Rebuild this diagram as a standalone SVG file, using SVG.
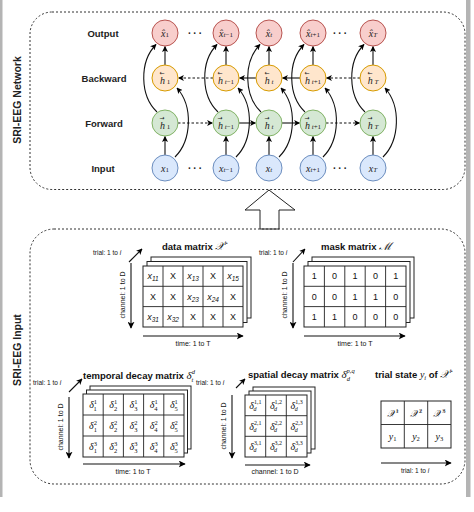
<svg xmlns="http://www.w3.org/2000/svg" width="474" height="512" viewBox="0 0 474 512">
<defs>
<marker id="ah" viewBox="0 0 10 10" refX="9" refY="5" markerWidth="6" markerHeight="6" markerUnits="userSpaceOnUse" orient="auto"><path d="M0,0 L10,5 L0,10 L2.5,5 z" fill="#000"/></marker>
<marker id="ah2" viewBox="0 0 10 10" refX="9" refY="5" markerWidth="7" markerHeight="7" markerUnits="userSpaceOnUse" orient="auto"><path d="M0,0 L10,5 L0,10 L2.5,5 z" fill="#000"/></marker>
</defs>
<style>
.frame{fill:#b4b4b4}
.box{fill:none;stroke:#333;stroke-width:1;stroke-dasharray:2,2}
.lbl{font-family:"Liberation Sans",Arial,sans-serif;font-weight:bold;font-size:9.5px;fill:#222;text-anchor:middle;dominant-baseline:central}
.side{font-family:"Liberation Sans",Arial,sans-serif;font-weight:bold;font-size:10.5px;fill:#222;text-anchor:middle;dominant-baseline:central}
.title{font-family:"Liberation Sans",Arial,sans-serif;font-weight:bold;font-size:9.5px;fill:#111}
.tm{font-family:"Liberation Serif","DejaVu Serif",serif;font-style:italic;font-weight:normal}
.small{font-family:"Liberation Sans",Arial,sans-serif;font-size:6.5px;fill:#111}
.ax{font-family:"Liberation Sans",Arial,sans-serif;font-size:7px;fill:#111;text-anchor:middle}
.m{font-family:"Liberation Serif","DejaVu Serif",serif;font-style:italic;font-size:10px;fill:#222;text-anchor:middle;dominant-baseline:central}
.ar{font-family:"DejaVu Sans",sans-serif;font-size:6px;fill:#222;text-anchor:middle}
.dots{font-family:"Liberation Sans",Arial,sans-serif;font-weight:bold;font-size:10px;fill:#222;text-anchor:middle;dominant-baseline:central;letter-spacing:2px}
.out{fill:#f8cecc;stroke:#b85450;stroke-width:1}
.bwd{fill:#ffe6cc;stroke:#d79b00;stroke-width:1}
.fwd{fill:#d5e8d4;stroke:#82b366;stroke-width:1}
.inp{fill:#dae8fc;stroke:#6c8ebf;stroke-width:1}
.c{fill:none;stroke:#111;stroke-width:1.1}
.cd{fill:none;stroke:#111;stroke-width:1.1;stroke-dasharray:2.5,2}
.cell{fill:#fff;stroke:#222;stroke-width:1}
.grid{fill:none;stroke:#222;stroke-width:0.9}
.cx{font-family:"Liberation Sans",Arial,sans-serif;font-size:9px;fill:#111;text-anchor:middle;dominant-baseline:central}
.cxi{font-family:"Liberation Sans",Arial,sans-serif;font-style:italic;font-size:9px;fill:#111;text-anchor:middle;dominant-baseline:central}
.dl{font-family:"Liberation Serif","DejaVu Serif",serif;font-style:italic;font-size:10px;fill:#111;text-anchor:middle;dominant-baseline:central}
</style>
<rect width="474" height="512" fill="#fff"/>
<rect class="frame" x="0" y="0" width="2.5" height="497"/>
<rect class="frame" x="466" y="0" width="4.5" height="497"/>

<g id="network-panel">
<rect class="box" x="30" y="12" width="435" height="177.5" rx="22"/>
<text class="side" transform="translate(17,100) rotate(-90)">SRI-EEG Network</text>
<text class="lbl" x="103" y="33">Output</text>
<text class="lbl" x="104" y="78">Backward</text>
<text class="lbl" x="104" y="123">Forward</text>
<text class="lbl" x="103" y="168">Input</text>
<text class="dots" x="196" y="33">···</text>
<text class="dots" x="341" y="33">···</text>
<text class="dots" x="196" y="168">···</text>
<text class="dots" x="341" y="168">···</text>
</g>

<g id="connectors">
<path class="c" d="M165,155 V136.5" marker-end="url(#ah)"/>
<path class="c" d="M226,155 V136.5" marker-end="url(#ah)"/>
<path class="c" d="M269,155 V136.5" marker-end="url(#ah)"/>
<path class="c" d="M313,155 V136.5" marker-end="url(#ah)"/>
<path class="c" d="M373,155 V136.5" marker-end="url(#ah)"/>
<path class="c" d="M165,65 V46.5" marker-end="url(#ah)"/>
<path class="c" d="M226,65 V46.5" marker-end="url(#ah)"/>
<path class="c" d="M269,65 V46.5" marker-end="url(#ah)"/>
<path class="c" d="M313,65 V46.5" marker-end="url(#ah)"/>
<path class="c" d="M373,65 V46.5" marker-end="url(#ah)"/>
<path class="cd" d="M178,123 H212.5" marker-end="url(#ah)"/>
<path class="c" d="M239,123 H255.5" marker-end="url(#ah)"/>
<path class="c" d="M282,123 H299.5" marker-end="url(#ah)"/>
<path class="cd" d="M326,123 H359.5" marker-end="url(#ah)"/>
<path class="cd" d="M213,78 H178.5" marker-end="url(#ah)"/>
<path class="c" d="M256,78 H239.5" marker-end="url(#ah)"/>
<path class="c" d="M300,78 H282.5" marker-end="url(#ah)"/>
<path class="cd" d="M360,78 H326.5" marker-end="url(#ah)"/>
<path class="c" d="M157,112 C140,96 139,62 156,44.5" marker-end="url(#ah)"/>
<path class="c" d="M218,112 C201,96 200,62 217,44.5" marker-end="url(#ah)"/>
<path class="c" d="M261,112 C244,96 243,62 260,44.5" marker-end="url(#ah)"/>
<path class="c" d="M305,112 C288,96 287,62 304,44.5" marker-end="url(#ah)"/>
<path class="c" d="M365,112 C348,96 347,62 364,44.5" marker-end="url(#ah)"/>
<path class="c" d="M175,157 C192,140 193,106 177,88" marker-end="url(#ah)"/>
<path class="c" d="M236,157 C253,140 254,106 238,88" marker-end="url(#ah)"/>
<path class="c" d="M279,157 C296,140 297,106 281,88" marker-end="url(#ah)"/>
<path class="c" d="M323,157 C340,140 341,106 325,88" marker-end="url(#ah)"/>
<path class="c" d="M383,157 C400,140 401,106 385,88" marker-end="url(#ah)"/>
<path d="M269,190 L295,210 L279,210 L279,229 L260,229 L260,210 L245,210 Z" fill="#fff" stroke="#222" stroke-width="1"/>
</g>

<g id="output-nodes">
<g id="o1"><circle class="out" cx="165" cy="33" r="13"/><text class="m" x="165" y="33">x̂<tspan font-size="7" font-style="normal" dy="2">1</tspan></text></g>
<g id="o2"><circle class="out" cx="226" cy="33" r="13"/><text class="m" x="226" y="33">x̂<tspan font-size="7" dy="2">t</tspan><tspan font-size="7" font-style="normal">−1</tspan></text></g>
<g id="o3"><circle class="out" cx="269" cy="33" r="13"/><text class="m" x="269" y="33">x̂<tspan font-size="7" dy="2">t</tspan></text></g>
<g id="o4"><circle class="out" cx="313" cy="33" r="13"/><text class="m" x="313" y="33">x̂<tspan font-size="7" dy="2">t</tspan><tspan font-size="7" font-style="normal">+1</tspan></text></g>
<g id="o5"><circle class="out" cx="373" cy="33" r="13"/><text class="m" x="373" y="33">x̂<tspan font-size="7" dy="2">T</tspan></text></g>
</g>

<g id="backward-nodes">
<g id="b1"><circle class="bwd" cx="165" cy="78" r="13"/><text class="ar" x="162" y="75">←</text><text class="m" x="165" y="80">h<tspan font-size="7" font-style="normal" dy="1.5"> 1</tspan></text></g>
<g id="b2"><circle class="bwd" cx="226" cy="78" r="13"/><text class="ar" x="220" y="75">←</text><text class="m" x="226" y="80">h<tspan font-size="7" dy="1.5"> t</tspan><tspan font-size="7" font-style="normal">−1</tspan></text></g>
<g id="b3"><circle class="bwd" cx="269" cy="78" r="13"/><text class="ar" x="267" y="75">←</text><text class="m" x="269" y="80">h<tspan font-size="7" dy="1.5"> t</tspan></text></g>
<g id="b4"><circle class="bwd" cx="313" cy="78" r="13"/><text class="ar" x="307" y="75">←</text><text class="m" x="313" y="80">h<tspan font-size="7" dy="1.5"> t</tspan><tspan font-size="7" font-style="normal">+1</tspan></text></g>
<g id="b5"><circle class="bwd" cx="373" cy="78" r="13"/><text class="ar" x="370" y="75">←</text><text class="m" x="373" y="80">h<tspan font-size="7" dy="1.5"> T</tspan></text></g>
</g>

<g id="forward-nodes">
<g id="f1"><circle class="fwd" cx="165" cy="123" r="13"/><text class="ar" x="162" y="120">→</text><text class="m" x="165" y="125">h<tspan font-size="7" font-style="normal" dy="1.5"> 1</tspan></text></g>
<g id="f2"><circle class="fwd" cx="226" cy="123" r="13"/><text class="ar" x="220" y="120">→</text><text class="m" x="226" y="125">h<tspan font-size="7" dy="1.5"> t</tspan><tspan font-size="7" font-style="normal">−1</tspan></text></g>
<g id="f3"><circle class="fwd" cx="269" cy="123" r="13"/><text class="ar" x="267" y="120">→</text><text class="m" x="269" y="125">h<tspan font-size="7" dy="1.5"> t</tspan></text></g>
<g id="f4"><circle class="fwd" cx="313" cy="123" r="13"/><text class="ar" x="307" y="120">→</text><text class="m" x="313" y="125">h<tspan font-size="7" dy="1.5"> t</tspan><tspan font-size="7" font-style="normal">+1</tspan></text></g>
<g id="f5"><circle class="fwd" cx="373" cy="123" r="13"/><text class="ar" x="370" y="120">→</text><text class="m" x="373" y="125">h<tspan font-size="7" dy="1.5"> T</tspan></text></g>
</g>

<g id="input-nodes">
<g id="i1"><circle class="inp" cx="165" cy="168" r="13"/><text class="m" x="165" y="168">x<tspan font-size="7" font-style="normal" dy="2">1</tspan></text></g>
<g id="i2"><circle class="inp" cx="226" cy="168" r="13"/><text class="m" x="226" y="168">x<tspan font-size="7" dy="2">t</tspan><tspan font-size="7" font-style="normal">−1</tspan></text></g>
<g id="i3"><circle class="inp" cx="269" cy="168" r="13"/><text class="m" x="269" y="168">x<tspan font-size="7" dy="2">t</tspan></text></g>
<g id="i4"><circle class="inp" cx="313" cy="168" r="13"/><text class="m" x="313" y="168">x<tspan font-size="7" dy="2">t</tspan><tspan font-size="7" font-style="normal">+1</tspan></text></g>
<g id="i5"><circle class="inp" cx="373" cy="168" r="13"/><text class="m" x="373" y="168">x<tspan font-size="7" dy="2">T</tspan></text></g>
</g>

<g id="input-panel">
<rect class="box" x="30" y="229" width="435" height="255" rx="24"/>
<text class="side" transform="translate(17,350) rotate(-90)">SRI-EEG Input</text>
</g>

<g id="data-matrix">
<text class="title" x="162" y="250">data matrix <tspan class="tm" font-size="11">𝒳</tspan><tspan class="tm" font-size="7" dy="-5">i</tspan></text>
<text class="small" x="93" y="255">trial: 1 to <tspan font-style="italic">i</tspan></text>
<path class="c" d="M129,262 L142,249" marker-end="url(#ah)"/>
<rect class="cell" x="151" y="257" width="100" height="61"/>
<rect class="cell" x="147" y="261.5" width="100" height="61"/>
<rect class="cell" x="143" y="266" width="100" height="61"/>
<path class="grid" d="M163,266V327M183,266V327M203,266V327M223,266V327M143,286.3H243M143,306.6H243"/>
<g class="cxi">
<text x="153" y="276">x<tspan font-size="6.5" dy="2">11</tspan></text>
<text x="193" y="276">x<tspan font-size="6.5" dy="2">13</tspan></text>
<text x="233" y="276">x<tspan font-size="6.5" dy="2">15</tspan></text>
<text x="193" y="296.5">x<tspan font-size="6.5" dy="2">23</tspan></text>
<text x="213" y="296.5">x<tspan font-size="6.5" dy="2">24</tspan></text>
<text x="153" y="317">x<tspan font-size="6.5" dy="2">31</tspan></text>
<text x="173" y="317">x<tspan font-size="6.5" dy="2">32</tspan></text>
</g>
<g class="cx">
<text x="173" y="276">X</text><text x="213" y="276">X</text>
<text x="153" y="296.5">X</text><text x="173" y="296.5">X</text><text x="233" y="296.5">X</text>
<text x="193" y="317">X</text><text x="213" y="317">X</text><text x="233" y="317">X</text>
</g>
<path class="c" d="M131,263 V328" marker-end="url(#ah2)"/>
<text class="ax" transform="translate(125,295) rotate(-90)">channel: 1 to D</text>
<path class="c" d="M143,336 H243" marker-end="url(#ah2)"/>
<text class="ax" x="193" y="346">time: 1 to T</text>
</g>

<g id="mask-matrix">
<text class="title" x="321" y="250">mask matrix <tspan class="tm" font-size="11">ℳ</tspan></text>
<text class="small" x="259" y="255">trial: 1 to <tspan font-style="italic">i</tspan></text>
<path class="c" d="M293,262 L305,249" marker-end="url(#ah)"/>
<rect class="cell" x="312" y="257" width="102" height="61"/>
<rect class="cell" x="308" y="261.5" width="102" height="61"/>
<rect class="cell" x="304" y="266" width="102" height="61"/>
<path class="grid" d="M324.4,266V327M344.8,266V327M365.2,266V327M385.6,266V327M304,286.3H406M304,306.6H406"/>
<g class="cx">
<text x="314.2" y="276">1</text><text x="334.6" y="276">0</text><text x="355" y="276">1</text><text x="375.4" y="276">0</text><text x="395.8" y="276">1</text>
<text x="314.2" y="296.5">0</text><text x="334.6" y="296.5">0</text><text x="355" y="296.5">1</text><text x="375.4" y="296.5">1</text><text x="395.8" y="296.5">0</text>
<text x="314.2" y="317">1</text><text x="334.6" y="317">1</text><text x="355" y="317">0</text><text x="375.4" y="317">0</text><text x="395.8" y="317">0</text>
</g>
<path class="c" d="M293,263 V328" marker-end="url(#ah2)"/>
<text class="ax" transform="translate(287,295) rotate(-90)">channel: 1 to D</text>
<path class="c" d="M304,336 H405" marker-end="url(#ah2)"/>
<text class="ax" x="355" y="346">time: 1 to T</text>
</g>

<g id="temporal-decay">
<text class="title" x="83" y="379">temporal decay matrix <tspan class="tm" font-size="11">δ</tspan><tspan class="tm" font-size="6.5" dy="-5.5">d</tspan><tspan class="tm" font-size="6.5" dx="-3.5" dy="8">t</tspan></text>
<text class="small" x="33" y="385">trial: 1 to <tspan font-style="italic">i</tspan></text>
<path class="c" d="M69,392 L82,379" marker-end="url(#ah)"/>
<rect class="cell" x="90" y="386" width="101" height="63"/>
<rect class="cell" x="86.5" y="390" width="101" height="63"/>
<rect class="cell" x="83" y="394" width="101" height="63"/>
<path class="grid" d="M103.2,394V457M123.4,394V457M143.6,394V457M163.8,394V457M83,415H184M83,436H184"/>
<g id="td-cells">
<text class="dl" x="93" y="404.5">δ<tspan font-size="6.5" font-style="normal" dy="-3.5">1</tspan><tspan font-size="6.5" font-style="normal" dx="-3.3" dy="7">1</tspan></text>
<text class="dl" x="113.3" y="404.5">δ<tspan font-size="6.5" font-style="normal" dy="-3.5">1</tspan><tspan font-size="6.5" font-style="normal" dx="-3.3" dy="7">2</tspan></text>
<text class="dl" x="133.5" y="404.5">δ<tspan font-size="6.5" font-style="normal" dy="-3.5">1</tspan><tspan font-size="6.5" font-style="normal" dx="-3.3" dy="7">3</tspan></text>
<text class="dl" x="153.7" y="404.5">δ<tspan font-size="6.5" font-style="normal" dy="-3.5">1</tspan><tspan font-size="6.5" font-style="normal" dx="-3.3" dy="7">4</tspan></text>
<text class="dl" x="173.9" y="404.5">δ<tspan font-size="6.5" font-style="normal" dy="-3.5">1</tspan><tspan font-size="6.5" font-style="normal" dx="-3.3" dy="7">5</tspan></text>
<text class="dl" x="93" y="425.5">δ<tspan font-size="6.5" font-style="normal" dy="-3.5">2</tspan><tspan font-size="6.5" font-style="normal" dx="-3.3" dy="7">1</tspan></text>
<text class="dl" x="113.3" y="425.5">δ<tspan font-size="6.5" font-style="normal" dy="-3.5">2</tspan><tspan font-size="6.5" font-style="normal" dx="-3.3" dy="7">2</tspan></text>
<text class="dl" x="133.5" y="425.5">δ<tspan font-size="6.5" font-style="normal" dy="-3.5">2</tspan><tspan font-size="6.5" font-style="normal" dx="-3.3" dy="7">3</tspan></text>
<text class="dl" x="153.7" y="425.5">δ<tspan font-size="6.5" font-style="normal" dy="-3.5">2</tspan><tspan font-size="6.5" font-style="normal" dx="-3.3" dy="7">4</tspan></text>
<text class="dl" x="173.9" y="425.5">δ<tspan font-size="6.5" font-style="normal" dy="-3.5">2</tspan><tspan font-size="6.5" font-style="normal" dx="-3.3" dy="7">5</tspan></text>
<text class="dl" x="93" y="446.5">δ<tspan font-size="6.5" font-style="normal" dy="-3.5">3</tspan><tspan font-size="6.5" font-style="normal" dx="-3.3" dy="7">1</tspan></text>
<text class="dl" x="113.3" y="446.5">δ<tspan font-size="6.5" font-style="normal" dy="-3.5">3</tspan><tspan font-size="6.5" font-style="normal" dx="-3.3" dy="7">2</tspan></text>
<text class="dl" x="133.5" y="446.5">δ<tspan font-size="6.5" font-style="normal" dy="-3.5">3</tspan><tspan font-size="6.5" font-style="normal" dx="-3.3" dy="7">3</tspan></text>
<text class="dl" x="153.7" y="446.5">δ<tspan font-size="6.5" font-style="normal" dy="-3.5">3</tspan><tspan font-size="6.5" font-style="normal" dx="-3.3" dy="7">4</tspan></text>
<text class="dl" x="173.9" y="446.5">δ<tspan font-size="6.5" font-style="normal" dy="-3.5">3</tspan><tspan font-size="6.5" font-style="normal" dx="-3.3" dy="7">5</tspan></text>
</g>
<path class="c" d="M69,397 V458" marker-end="url(#ah2)"/>
<text class="ax" transform="translate(63,427) rotate(-90)">channel: 1 to D</text>
<path class="c" d="M83,464 H185" marker-end="url(#ah2)"/>
<text class="ax" x="133" y="474">time: 1 to T</text>
</g>

<g id="spatial-decay">
<text class="title" x="248" y="378">spatial decay matrix <tspan class="tm" font-size="11">δ</tspan><tspan class="tm" font-size="6.5" dy="-5.5">p,q</tspan><tspan class="tm" font-size="6.5" dx="-8" dy="8">d</tspan></text>
<text class="small" x="196" y="385">trial: 1 to <tspan font-style="italic">i</tspan></text>
<path class="c" d="M236,388 L245,379" marker-end="url(#ah)"/>
<rect class="cell" x="253" y="387" width="62" height="62"/>
<rect class="cell" x="249" y="391" width="62" height="62"/>
<rect class="cell" x="245" y="395" width="62" height="62"/>
<path class="grid" d="M265.7,395V457M286.3,395V457M245,415.7H307M245,436.3H307"/>
<g id="sd-cells">
<text class="dl" x="255.3" y="405.5">δ<tspan font-size="6" font-style="normal" dy="-3.5">1,1</tspan><tspan font-size="6" font-style="italic" dx="-8" dy="7">d</tspan></text>
<text class="dl" x="276" y="405.5">δ<tspan font-size="6" font-style="normal" dy="-3.5">1,2</tspan><tspan font-size="6" font-style="italic" dx="-8" dy="7">d</tspan></text>
<text class="dl" x="296.6" y="405.5">δ<tspan font-size="6" font-style="normal" dy="-3.5">1,3</tspan><tspan font-size="6" font-style="italic" dx="-8" dy="7">d</tspan></text>
<text class="dl" x="255.3" y="426">δ<tspan font-size="6" font-style="normal" dy="-3.5">2,1</tspan><tspan font-size="6" font-style="italic" dx="-8" dy="7">d</tspan></text>
<text class="dl" x="276" y="426">δ<tspan font-size="6" font-style="normal" dy="-3.5">2,2</tspan><tspan font-size="6" font-style="italic" dx="-8" dy="7">d</tspan></text>
<text class="dl" x="296.6" y="426">δ<tspan font-size="6" font-style="normal" dy="-3.5">2,3</tspan><tspan font-size="6" font-style="italic" dx="-8" dy="7">d</tspan></text>
<text class="dl" x="255.3" y="446.5">δ<tspan font-size="6" font-style="normal" dy="-3.5">3,1</tspan><tspan font-size="6" font-style="italic" dx="-8" dy="7">d</tspan></text>
<text class="dl" x="276" y="446.5">δ<tspan font-size="6" font-style="normal" dy="-3.5">3,2</tspan><tspan font-size="6" font-style="italic" dx="-8" dy="7">d</tspan></text>
<text class="dl" x="296.6" y="446.5">δ<tspan font-size="6" font-style="normal" dy="-3.5">3,3</tspan><tspan font-size="6" font-style="italic" dx="-8" dy="7">d</tspan></text>
</g>
<path class="c" d="M232,395 V458" marker-end="url(#ah2)"/>
<text class="ax" transform="translate(226,426) rotate(-90)">channel: 1 to D</text>
<path class="c" d="M245,465 H310" marker-end="url(#ah2)"/>
<text class="ax" x="275" y="474">channel: 1 to D</text>
</g>

<g id="trial-state">
<text class="title" x="375" y="378">trial state <tspan class="tm" font-size="10">y</tspan><tspan class="tm" font-size="6.5" dy="2">i</tspan><tspan dy="-2"> of </tspan><tspan class="tm" font-size="11">𝒳</tspan><tspan class="tm" font-size="6.5" dy="-5">i</tspan></text>
<rect class="cell" x="381" y="401" width="70" height="47"/>
<path class="grid" d="M404.3,401V448M427.7,401V448M381,424.5H451"/>
<text class="dl" x="392.7" y="413">𝒳<tspan font-size="6.5" font-style="normal" dy="-3">1</tspan></text>
<text class="dl" x="416" y="413">𝒳<tspan font-size="6.5" font-style="normal" dy="-3">2</tspan></text>
<text class="dl" x="439.3" y="413">𝒳<tspan font-size="6.5" font-style="normal" dy="-3">3</tspan></text>
<text class="dl" x="392.7" y="436">y<tspan font-size="6.5" font-style="normal" dy="2">1</tspan></text>
<text class="dl" x="416" y="436">y<tspan font-size="6.5" font-style="normal" dy="2">2</tspan></text>
<text class="dl" x="439.3" y="436">y<tspan font-size="6.5" font-style="normal" dy="2">3</tspan></text>
<path class="c" d="M381,463 H451" marker-end="url(#ah2)"/>
<text class="small" x="415" y="473" text-anchor="middle">trial: 1 to <tspan font-style="italic">i</tspan></text>
</g>
</svg>
